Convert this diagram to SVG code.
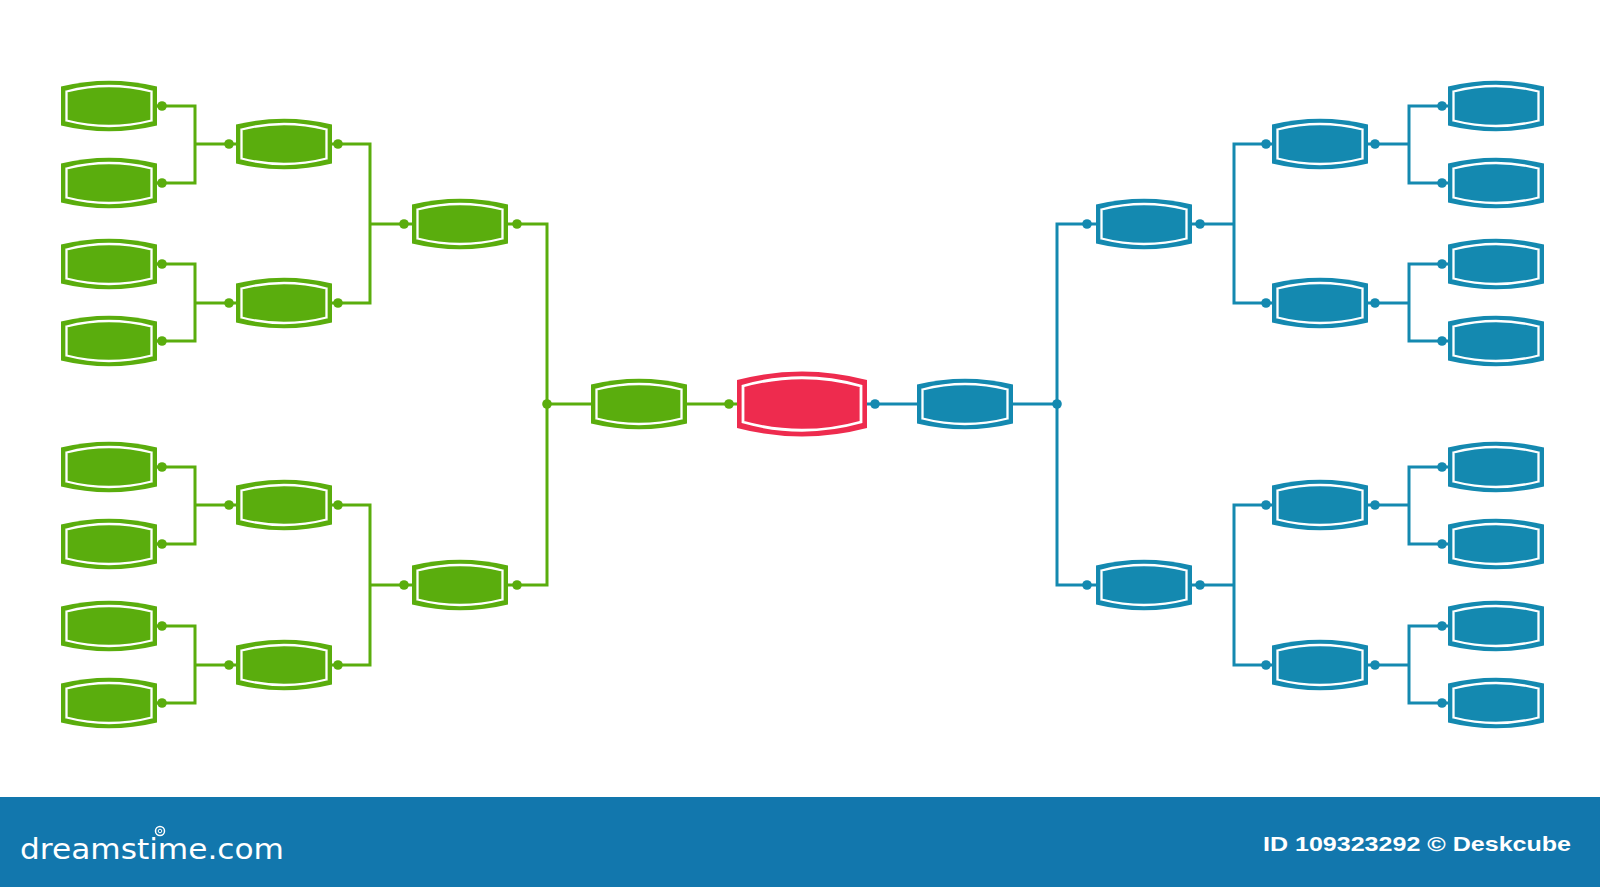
<svg xmlns="http://www.w3.org/2000/svg" xmlns:xlink="http://www.w3.org/1999/xlink" width="1600" height="887" viewBox="0 0 1600 887">
<style>
.g{fill:#5aad0d}
.b{fill:#1489b0}
.r{fill:#ee2b4e}
.in{fill:none;stroke:#fff;stroke-width:2.3}
.inL{fill:none;stroke:#fff;stroke-width:2.8}
.lg{fill:none;stroke:#5aad0d;stroke-width:3}
.lb{fill:none;stroke:#1489b0;stroke-width:3}
.dg{fill:#5aad0d}
.db{fill:#1489b0}
.foot{fill:#1277ad}
.t1{font-family:"DejaVu Sans",sans-serif;font-size:28px;fill:#fff}
.t2{font-family:"Liberation Sans",Arial,sans-serif;font-size:21px;font-weight:bold;fill:#fff}
</style>
<defs>
<g id="ns">
<path d="M-48,-19.5 Q0,-31 48,-19.5 L48,19.5 Q0,31 -48,19.5 Z"/>
<path class="in" d="M-42.5,-14.5 Q0,-25.5 42.5,-14.5 L42.5,14.5 Q0,25.5 -42.5,14.5 Z"/>
</g>
<g id="nl">
<path d="M-65,-24 Q0,-41 65,-24 L65,24 Q0,41 -65,24 Z"/>
<path class="inL" d="M-59,-18 Q0,-34.5 59,-18 L59,18 Q0,34.5 -59,18 Z"/>
</g>
</defs>
<rect width="1600" height="887" fill="#fff"/>
<g id="connectors">
<g id="conn-left">
<path class="lg" d="M156,106H195V183H156M195,144H236"/>
<path class="lg" d="M156,264H195V341H156M195,303H236"/>
<path class="lg" d="M156,467H195V544H156M195,505H236"/>
<path class="lg" d="M156,626H195V703H156M195,665H236"/>
<path class="lg" d="M332,144H370V303H332M370,224H412"/>
<path class="lg" d="M332,505H370V665H332M370,585H412"/>
<path class="lg" d="M508,224H547V585H508M547,404H591"/>
<path class="lg" d="M687,404H737"/>
<g class="dg">
<circle cx="162" cy="106" r="4.8"/><circle cx="162" cy="183" r="4.8"/><circle cx="229" cy="144" r="4.8"/>
<circle cx="162" cy="264" r="4.8"/><circle cx="162" cy="341" r="4.8"/><circle cx="229" cy="303" r="4.8"/>
<circle cx="162" cy="467" r="4.8"/><circle cx="162" cy="544" r="4.8"/><circle cx="229" cy="505" r="4.8"/>
<circle cx="162" cy="626" r="4.8"/><circle cx="162" cy="703" r="4.8"/><circle cx="229" cy="665" r="4.8"/>
<circle cx="338" cy="144" r="4.8"/><circle cx="338" cy="303" r="4.8"/><circle cx="404" cy="224" r="4.8"/>
<circle cx="338" cy="505" r="4.8"/><circle cx="338" cy="665" r="4.8"/><circle cx="404" cy="585" r="4.8"/>
<circle cx="517" cy="224" r="4.8"/><circle cx="517" cy="585" r="4.8"/><circle cx="547" cy="404" r="4.8"/>
<circle cx="729" cy="404" r="4.8"/>
</g>
</g>
<g id="conn-right">
<path class="lb" d="M1448,106H1409V183H1448M1409,144H1368"/>
<path class="lb" d="M1448,264H1409V341H1448M1409,303H1368"/>
<path class="lb" d="M1448,467H1409V544H1448M1409,505H1368"/>
<path class="lb" d="M1448,626H1409V703H1448M1409,665H1368"/>
<path class="lb" d="M1272,144H1234V303H1272M1234,224H1192"/>
<path class="lb" d="M1272,505H1234V665H1272M1234,585H1192"/>
<path class="lb" d="M1096,224H1057V585H1096M1057,404H1013"/>
<path class="lb" d="M917,404H867"/>
<g class="db">
<circle cx="1442" cy="106" r="4.8"/><circle cx="1442" cy="183" r="4.8"/><circle cx="1375" cy="144" r="4.8"/>
<circle cx="1442" cy="264" r="4.8"/><circle cx="1442" cy="341" r="4.8"/><circle cx="1375" cy="303" r="4.8"/>
<circle cx="1442" cy="467" r="4.8"/><circle cx="1442" cy="544" r="4.8"/><circle cx="1375" cy="505" r="4.8"/>
<circle cx="1442" cy="626" r="4.8"/><circle cx="1442" cy="703" r="4.8"/><circle cx="1375" cy="665" r="4.8"/>
<circle cx="1266" cy="144" r="4.8"/><circle cx="1266" cy="303" r="4.8"/><circle cx="1200" cy="224" r="4.8"/>
<circle cx="1266" cy="505" r="4.8"/><circle cx="1266" cy="665" r="4.8"/><circle cx="1200" cy="585" r="4.8"/>
<circle cx="1087" cy="224" r="4.8"/><circle cx="1087" cy="585" r="4.8"/><circle cx="1057" cy="404" r="4.8"/>
<circle cx="875" cy="404" r="4.8"/>
</g>
</g>
</g>
<g id="L1-1" class="g"><use href="#ns" x="109" y="106"/></g>
<g id="L1-2" class="g"><use href="#ns" x="109" y="183"/></g>
<g id="L1-3" class="g"><use href="#ns" x="109" y="264"/></g>
<g id="L1-4" class="g"><use href="#ns" x="109" y="341"/></g>
<g id="L1-5" class="g"><use href="#ns" x="109" y="467"/></g>
<g id="L1-6" class="g"><use href="#ns" x="109" y="544"/></g>
<g id="L1-7" class="g"><use href="#ns" x="109" y="626"/></g>
<g id="L1-8" class="g"><use href="#ns" x="109" y="703"/></g>
<g id="L2-1" class="g"><use href="#ns" x="284" y="144"/></g>
<g id="L2-2" class="g"><use href="#ns" x="284" y="303"/></g>
<g id="L2-3" class="g"><use href="#ns" x="284" y="505"/></g>
<g id="L2-4" class="g"><use href="#ns" x="284" y="665"/></g>
<g id="L3-1" class="g"><use href="#ns" x="460" y="224"/></g>
<g id="L3-2" class="g"><use href="#ns" x="460" y="585"/></g>
<g id="L-semi" class="g"><use href="#ns" x="639" y="404"/></g>
<g id="final" class="r"><use href="#nl" x="802" y="404"/></g>
<g id="R-semi" class="b"><use href="#ns" x="965" y="404"/></g>
<g id="R3-1" class="b"><use href="#ns" x="1144" y="224"/></g>
<g id="R3-2" class="b"><use href="#ns" x="1144" y="585"/></g>
<g id="R2-1" class="b"><use href="#ns" x="1320" y="144"/></g>
<g id="R2-2" class="b"><use href="#ns" x="1320" y="303"/></g>
<g id="R2-3" class="b"><use href="#ns" x="1320" y="505"/></g>
<g id="R2-4" class="b"><use href="#ns" x="1320" y="665"/></g>
<g id="R1-1" class="b"><use href="#ns" x="1496" y="106"/></g>
<g id="R1-2" class="b"><use href="#ns" x="1496" y="183"/></g>
<g id="R1-3" class="b"><use href="#ns" x="1496" y="264"/></g>
<g id="R1-4" class="b"><use href="#ns" x="1496" y="341"/></g>
<g id="R1-5" class="b"><use href="#ns" x="1496" y="467"/></g>
<g id="R1-6" class="b"><use href="#ns" x="1496" y="544"/></g>
<g id="R1-7" class="b"><use href="#ns" x="1496" y="626"/></g>
<g id="R1-8" class="b"><use href="#ns" x="1496" y="703"/></g>
<g id="footer">
<rect class="foot" x="0" y="797" width="1600" height="90"/>
<circle cx="160" cy="831" r="4.5" fill="none" stroke="#fff" stroke-width="1.5"/>
<circle cx="160" cy="831" r="1.8" fill="none" stroke="#fff" stroke-width="1"/>
<text class="t1" x="20" y="859" textLength="264" lengthAdjust="spacingAndGlyphs">dreamstime.com</text>
<text class="t2" x="1263" y="851" textLength="308" lengthAdjust="spacingAndGlyphs">ID 109323292 © Deskcube</text>
</g>
</svg>
